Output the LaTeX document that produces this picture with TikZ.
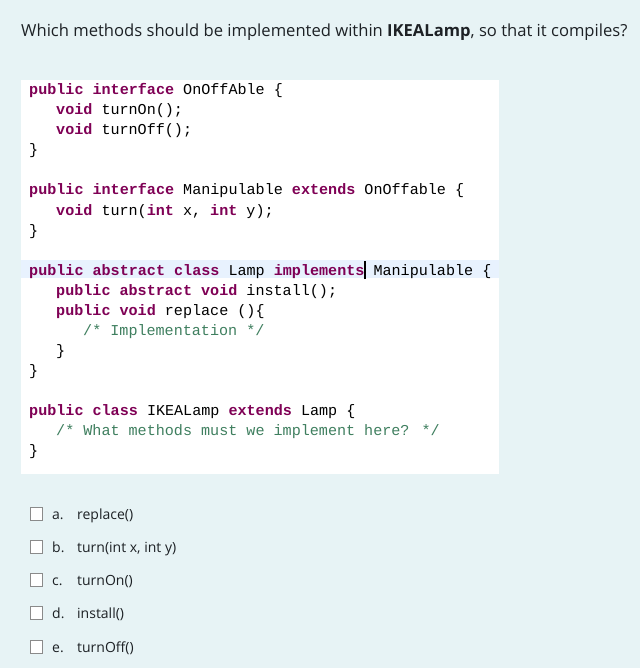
\documentclass[tikz,border=0pt]{standalone}
\usepackage{fontspec}
\setmainfont{Open Sans}
\newfontfamily\codef{Liberation Mono}
\definecolor{bgc}{HTML}{E7F3F5}
\definecolor{kwc}{HTML}{7F0055}
\definecolor{cmc}{HTML}{3F7F5F}
\definecolor{hlc}{HTML}{E8F2FE}
\definecolor{boxc}{HTML}{8A8A8A}
\definecolor{txc}{HTML}{1D2125}
\newcommand{\kw}[1]{\textcolor{kwc}{\bfseries #1}}
\newcommand{\cm}[1]{\textcolor{cmc}{#1}}
\begin{document}
\begin{tikzpicture}[x=1pt,y=-1pt,
  codeline/.style={anchor=base west,inner sep=0pt,font=\codef\fontsize{15.1}{16}\selectfont,text=black},
  opt/.style={anchor=base west,inner sep=0pt,font=\fontsize{14}{16}\selectfont,text=txc},
  cbox/.style={draw=boxc,line width=1.4pt,fill=white,minimum size=12.5pt,inner sep=0pt}]
\fill[bgc] (0,0) rectangle (640,668);
\useasboundingbox (0,0) rectangle (640,668);
\node[anchor=base west,inner sep=0pt,font=\fontsize{16.6}{19}\selectfont,text=txc] (title) at (21,37) {Which methods should be implemented within \textbf{IKEALamp}, so that it compiles?};
\fill[white] (21,80) rectangle (499,474);
\fill[hlc] (21,260) rectangle (499,278);
\node[codeline] (l1) at (29,95) {\kw{public interface} OnOffAble \{};
\node[codeline] (l2) at (56,115) {\kw{void} turnOn();};
\node[codeline] (l3) at (56,135) {\kw{void} turnOff();};
\node[codeline] (l4) at (29,155) {\}};
\node[codeline] (l6) at (29,195) {\kw{public interface} Manipulable \kw{extends} OnOffable \{};
\node[codeline] (l7) at (56,215) {\kw{void} turn(\kw{int} x, \kw{int} y);};
\node[codeline] (l8) at (29,235) {\}};
\node[codeline] (l10) at (29,275) {\kw{public abstract class} Lamp \kw{implements}\rlap{\textcolor{black}{\rule[-4pt]{1.6pt}{18pt}}} Manipulable \{};
\node[codeline] (l11) at (56,295) {\kw{public abstract void} install();};
\node[codeline] (l12) at (56,315) {\kw{public void} replace ()\{};
\node[codeline] (l13) at (83,335) {\cm{/* Implementation */}};
\node[codeline] (l14) at (56,355) {\}};
\node[codeline] (l15) at (29,375) {\}};
\node[codeline] (l17) at (29,415) {\kw{public class} IKEALamp \kw{extends} Lamp \{};
\node[codeline] (l18) at (56,435) {\cm{/* What methods must we implement here? */}};
\node[codeline] (l19) at (29,455) {\}};
\foreach \y/\l/\t [count=\i] in {514/a./replace(), 547/b./{turn(int x, int y)}, 580/c./turnOn(), 613/d./install(), 647/e./turnOff()}{
  \node[cbox] (cb\i) at (36.5,\y) {};
  \node[opt] (ol\i) at (52,\y+5) {\l};
  \node[opt] (ot\i) at (77,\y+5) {\t};
}
\end{tikzpicture}
\end{document}
